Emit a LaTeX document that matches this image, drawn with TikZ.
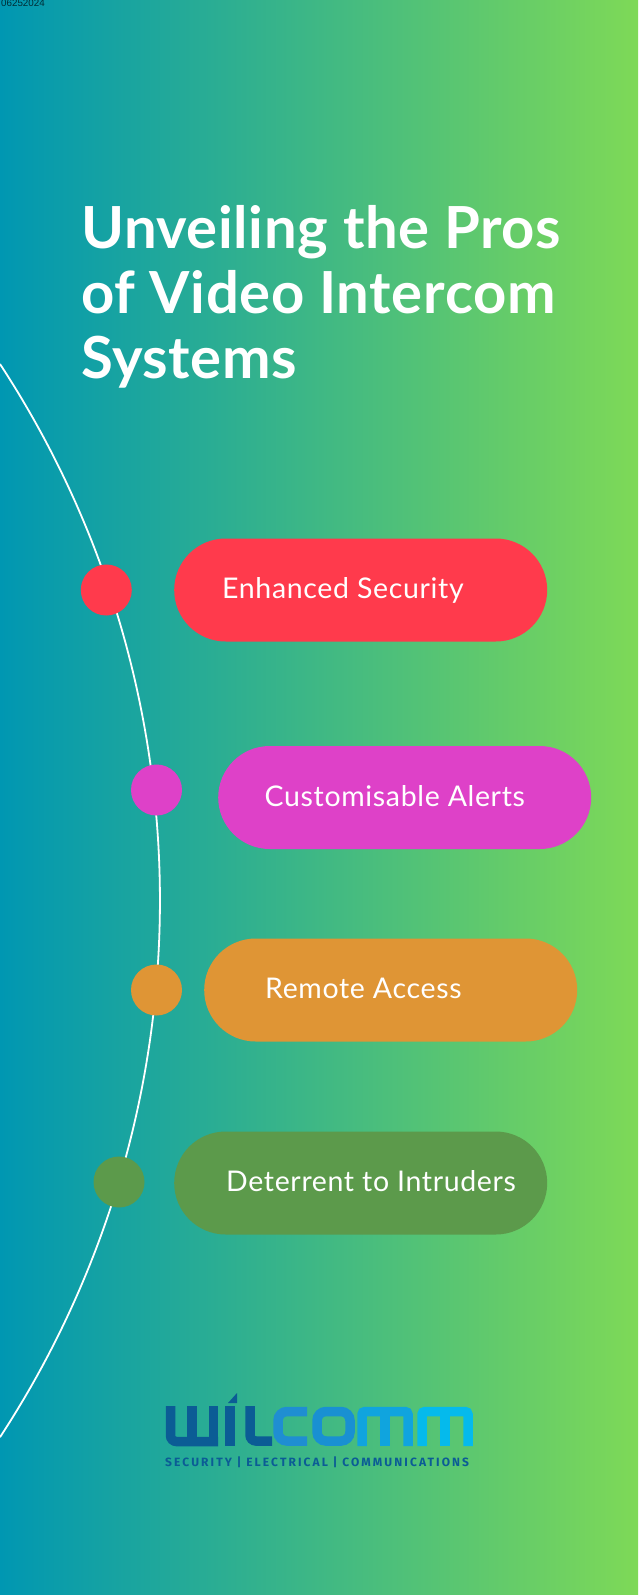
\documentclass[tikz,border=0pt]{standalone}
\usepackage{fontspec}
\setmainfont{Lato}
\newfontfamily\tinyf{Liberation Sans}
\newfontfamily\tagf{Fira Sans}
\definecolor{bgl}{HTML}{0097B2}
\definecolor{bgr}{HTML}{7ED957}
\definecolor{cred}{HTML}{FF3A4C}
\definecolor{cmag}{HTML}{DE41C8}
\definecolor{corg}{HTML}{DF9535}
\definecolor{cgrn}{HTML}{5C9A4B}
\definecolor{ldark}{HTML}{0B5C95}
\definecolor{lc}{HTML}{1F8ED2}
\definecolor{lo}{HTML}{1990D2}
\definecolor{lma}{HTML}{10A4DE}
\definecolor{lmb}{HTML}{05BAEC}
\tikzset{
 pill/.style={rounded corners=51.5pt,minimum width=373pt,minimum height=103pt,inner sep=0pt,anchor=west,draw=none},
 dot/.style={circle,minimum size=51pt,inner sep=0pt,draw=none},
 plabel/.style={text=white,font=\fontsize{28.5}{30}\selectfont\addfontfeatures{LetterSpace=2.3},anchor=base west,inner sep=0pt},
 ttl/.style={text=white,font=\fontsize{58}{60}\selectfont\bfseries\addfontfeatures{LetterSpace=1.1},anchor=base west,inner sep=0pt},
 logo/.style={line width=9.5pt,line cap=butt,line join=miter}
}
\begin{document}
\begin{tikzpicture}[x=1pt,y=-1pt]
\useasboundingbox (0,0) rectangle (638,1595);
\shade[left color=bgl,right color=bgr,shading angle=90,draw=none] (0,0) rectangle (638,1595);
\node[anchor=north west,inner sep=0pt,font=\tinyf\fontsize{9.8}{10}\selectfont,text=black!70!bgl] (stamp) at (1,-1) {06252024};
% arc
\coordinate (arcA) at (0,364);
\draw[white,line width=1.8pt] (arcA) arc[start angle=-33.2,end angle=33.2,radius=980];
% dots
\node[dot,fill=cred] (d1) at (106.3,590) {};
\node[dot,fill=cmag] (d2) at (156.5,790) {};
\node[dot,fill=corg] (d3) at (156.5,990) {};
\node[dot,fill=cgrn] (d4) at (119,1182) {};
% pills
\node[pill,fill=cred] (p1) at (174,590) {};
\node[pill,fill=cmag] (p2) at (218,797.5) {};
\node[pill,fill=corg] (p3) at (204,990) {};
\node[pill,fill=cgrn] (p4) at (174,1183) {};
\node[plabel] (l1) at (222,598.5) {Enhanced Security};
\node[plabel] (l2) at (264.5,806) {Customisable Alerts};
\node[plabel] (l3) at (265,998) {Remote Access};
\node[plabel] (l4) at (226,1191) {Deterrent to Intruders};
% title
\node[ttl] (t1) at (81,248) {Unveiling the Pros};
\node[ttl] (t2) at (81,313.5) {of Video Intercom};
\node[ttl] (t3) at (81,378) {Systems};
% logo
\begin{scope}[logo,draw=ldark]
\draw[rounded corners=6pt] (170.5,1406) -- (170.5,1441.5) -- (218,1441.5);
\draw (192,1406) -- (192,1441.5);
\draw (213.5,1406) -- (213.5,1441.5);
\draw (230,1406) -- (230,1446);
\fill[ldark] (228,1403) -- (237,1403) -- (237,1393) -- cycle;
\draw[rounded corners=6pt] (250,1406) -- (250,1441) -- (272,1441);
\end{scope}
\begin{scope}[logo]
\draw[lc,rounded corners=9pt] (307,1411.5) -- (278,1411.5) -- (278,1441) -- (307,1441);
\draw[lo,rounded corners=9pt] (317,1411.5) rectangle (350,1441);
\draw[lma,rounded corners=3pt] (362,1446) -- (362,1411.5) -- (408,1411.5) -- (408,1446);
\draw[lma] (385,1411.5) -- (385,1446);
\draw[lmb,rounded corners=3pt] (422,1446) -- (422,1411.5) -- (468,1411.5) -- (468,1446);
\draw[lmb] (445,1411.5) -- (445,1446);
\end{scope}
\node[anchor=base west,inner sep=0pt,font=\tagf\fontsize{12}{12}\selectfont\bfseries,text=ldark] (tag) at (165,1466) {\addfontfeatures{LetterSpace=17.4}SECURITY | ELECTRICAL | COMMUNICATIONS};
\end{tikzpicture}
\end{document}
